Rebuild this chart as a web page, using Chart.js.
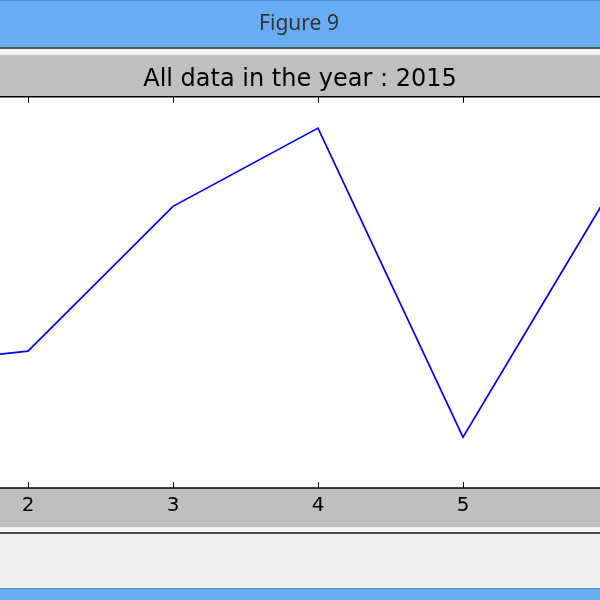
<!DOCTYPE html>
<html>
<head>
<meta charset="utf-8">
<script src="https://cdn.jsdelivr.net/npm/chart.js@4"></script>
<style>
  html, body { margin: 0; padding: 0; background: #bfbfbf; }
  #wrap { width: 600px; height: 600px; position: relative; }
</style>
</head>
<body>
<div id="wrap"><canvas id="chartAnio" width="600" height="600"></canvas></div>
<script>
// datos
const xValores = [1, 2, 3, 4, 5, 6];
const yValores = [3.1, 3.5, 7.2, 9.2, 1.3, 7.5];
const xTicks = [2, 3, 4, 5];
const tituloVentana = 'Figure 9';
const tituloGrafico = 'All data in the year : 2015';

// marco de ventana estilo matplotlib
const marcoVentana = {
  id: 'marcoVentana',
  beforeDraw(chart) {
    const ctx = chart.ctx;
    const a = chart.chartArea;
    ctx.save();
    // fondo gris
    ctx.fillStyle = '#bfbfbf';
    ctx.fillRect(0, 0, 600, 600);
    // barra de titulo
    ctx.fillStyle = '#68acf6';
    ctx.fillRect(0, 0, 600, 47);
    ctx.fillStyle = '#4f8fd8';
    ctx.fillRect(0, 0, 600, 1);
    ctx.fillStyle = '#555555';
    ctx.fillRect(0, 47, 600, 2);
    ctx.fillStyle = '#f4f4f4';
    ctx.fillRect(0, 49, 600, 6);
    ctx.fillStyle = '#333333';
    ctx.font = '21px "Noto Sans"';
    ctx.textAlign = 'center';
    ctx.textBaseline = 'middle';
    ctx.fillText(tituloVentana, 299, 24);
    // barra de herramientas abajo
    ctx.fillStyle = '#f4f4f4';
    ctx.fillRect(0, 527, 600, 5);
    ctx.fillStyle = '#4a4a4a';
    ctx.fillRect(0, 532, 600, 2);
    ctx.fillStyle = '#efefef';
    ctx.fillRect(0, 534, 600, 53);
    ctx.fillStyle = '#f8f8f8';
    ctx.fillRect(0, 586, 600, 2);
    ctx.fillStyle = '#68acf6';
    ctx.fillRect(0, 588, 600, 12);
    ctx.fillStyle = '#4f8fd8';
    ctx.fillRect(0, 588, 600, 1);
    // area de ejes
    ctx.fillStyle = '#ffffff';
    ctx.fillRect(a.left, a.top, a.right - a.left, a.bottom - a.top);
    ctx.restore();
  },
  afterDatasetsDraw(chart) {
    const ctx = chart.ctx;
    const a = chart.chartArea;
    const escalaX = chart.scales.x;
    ctx.save();
    ctx.strokeStyle = '#000000';
    ctx.lineWidth = 1.4;
    ctx.beginPath();
    ctx.moveTo(a.left, a.top);
    ctx.lineTo(a.right, a.top);
    ctx.moveTo(a.left, a.bottom);
    ctx.lineTo(a.right, a.bottom);
    ctx.stroke();
    // marcas hacia adentro
    ctx.lineWidth = 1;
    ctx.beginPath();
    escalaX.ticks.forEach(t => {
      const px = Math.round(escalaX.getPixelForValue(t.value)) + 0.5;
      ctx.moveTo(px, a.top);
      ctx.lineTo(px, a.top + 6);
      ctx.moveTo(px, a.bottom);
      ctx.lineTo(px, a.bottom - 6);
    });
    ctx.stroke();
    ctx.restore();
  }
};

const canvas = document.getElementById('chartAnio');
const xMin = 2 - 28 / 145;
const xMax = xMin + 600 / 145;

window._chartAnio = new Chart(canvas, {
  type: 'line',
  data: {
    datasets: [{
      data: xValores.map((x, i) => ({ x: x, y: yValores[i] })),
      borderColor: '#0000ff',
      borderWidth: 1.7,
      pointRadius: 0,
      tension: 0,
      fill: false
    }]
  },
  options: {
    responsive: false,
    animation: false,
    layout: {
      padding: { top: 56, bottom: 76, left: 0, right: 0 }
    },
    plugins: {
      legend: { display: false },
      tooltip: { enabled: false },
      title: {
        display: true,
        text: tituloGrafico,
        color: '#000000',
        font: { family: 'DejaVu Sans', size: 24, weight: 'normal' },
        padding: { top: 9, bottom: 3 }
      }
    },
    scales: {
      x: {
        type: 'linear',
        position: 'bottom',
        min: xMin,
        max: xMax,
        afterBuildTicks(scale) {
          scale.ticks = xTicks.map(v => ({ value: v }));
        },
        grid: { display: false, drawTicks: false },
        border: { display: false },
        ticks: {
          color: '#000000',
          font: { family: 'DejaVu Sans', size: 20 },
          padding: 6,
          autoSkip: false,
          maxRotation: 0,
          callback: v => String(v)
        }
      },
      y: {
        display: false,
        min: 0,
        max: 10
      }
    }
  },
  plugins: [marcoVentana]
});
</script>
</body>
</html>
